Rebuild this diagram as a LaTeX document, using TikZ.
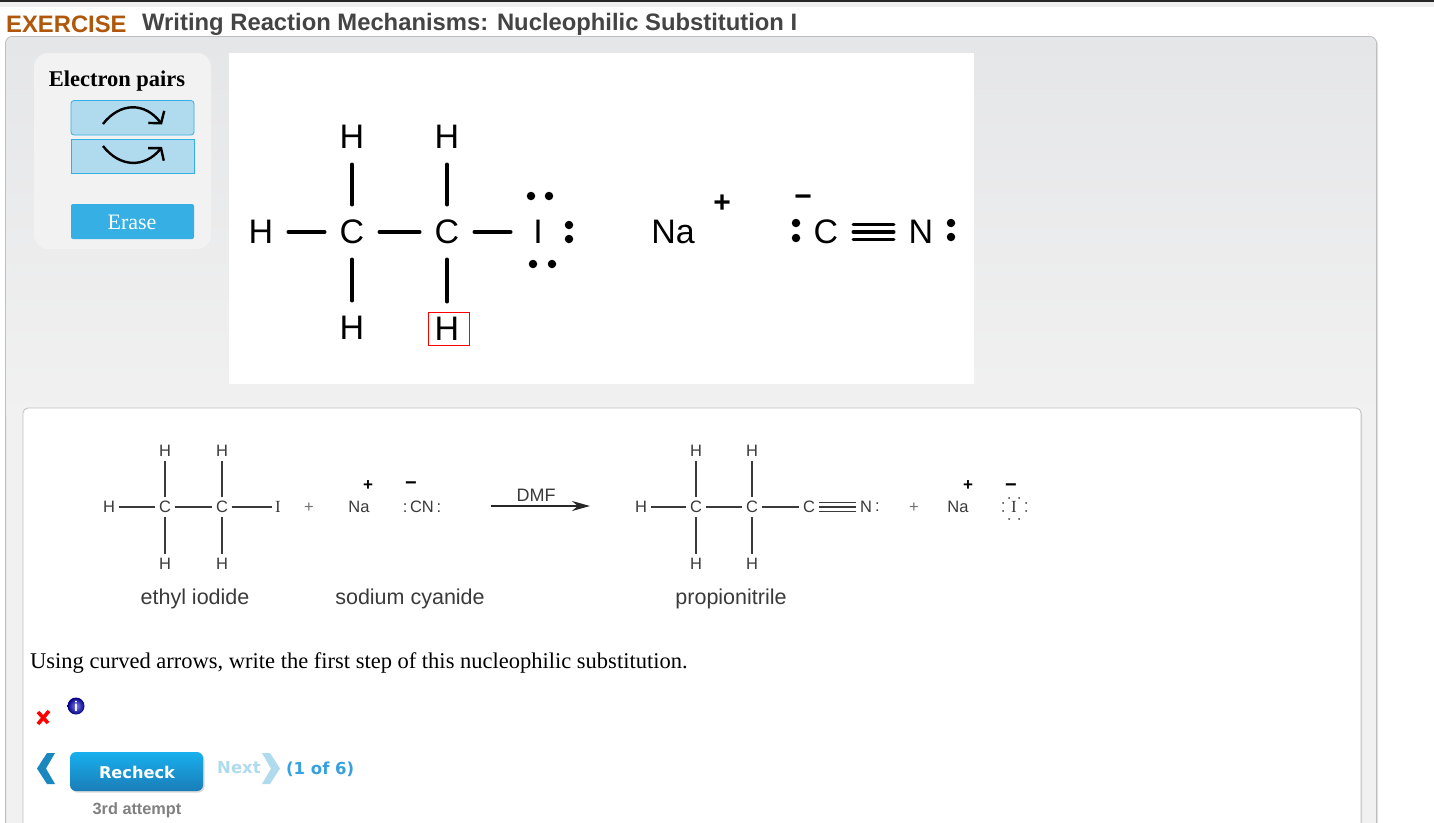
\documentclass[tikz,border=0pt]{standalone}
\usepackage{fontspec}
\setmainfont{Liberation Sans}
\newfontfamily\serifface{Liberation Serif}
\newfontfamily\dejaface{DejaVu Sans}
\usetikzlibrary{positioning, arrows.meta, shadows}

\definecolor{paneltop}{HTML}{E5E6E8}
\definecolor{panelend}{HTML}{F1F1F1}
\definecolor{toolbg}{HTML}{F2F2F2}
\definecolor{btnfill}{HTML}{B0DAEE}
\definecolor{btnblue}{HTML}{36B0E4}
\definecolor{countblue}{HTML}{36A0E0}
\definecolor{exorange}{HTML}{B0570C}
\definecolor{titlegray}{HTML}{444444}
\definecolor{smallink}{HTML}{3A3A3A}
\definecolor{backblue}{HTML}{1A87BF}

\begin{document}
\begin{tikzpicture}[x=1pt, y=-1pt, >=stealth, on grid,
  bigatom/.style={circle, inner sep=0pt, minimum size=54pt, font=\fontsize{34}{34}\selectfont},
  smallatom/.style={circle, inner sep=0pt, minimum size=19pt, text=smallink, font=\fontsize{16.5}{16.5}\selectfont},
  bond/.style={line width=3.4pt, line cap=round},
  thinbond/.style={line width=1.1pt, smallink},
  bigdot/.style={circle, fill=black, inner sep=0pt, minimum size=8.5pt},
  tinydot/.style={circle, fill=smallink, inner sep=0pt, minimum size=2pt},
  namelabel/.style={text=smallink, font=\fontsize{21.5}{21.5}\selectfont},
  toolbtn/.style={draw=btnblue, fill=btnfill, line width=0.8pt},
  iconarrow/.style={line width=2.4pt, -{Straight Barb[length=8pt, width=20pt, line width=2.4pt]}}]
  \useasboundingbox (0,0) rectangle (1434,822);
  \clip (0,0) rectangle (1434,822);

  % Page and panels
  \fill[white] (0,0) rectangle (1434,822);
  \fill[black!85] (0,0) rectangle (1434,1.5);
  \fill[black!6] (0,1.5) rectangle (1434,7);
  \draw[draw=black!25, line width=1pt, rounded corners=7pt, fill=panelend,
    drop shadow={opacity=0.2, shadow xshift=1.5pt, shadow yshift=-1pt}]
    (5.5,36.5) rectangle (1376.5,900);
  \shade[rounded corners=7pt, top color=paneltop, bottom color=panelend]
    (6,420) -- (6,37) -- (1376,37) -- (1376,420) -- cycle;
  \fill[toolbg, rounded corners=14pt] (34,53) rectangle (211,249);
  \fill[white] (229,53) rectangle (974,384);
  \draw[draw=black!25, fill=white, line width=0.8pt, rounded corners=5pt,
    drop shadow={opacity=0.25, shadow xshift=1pt, shadow yshift=-1pt}]
    (23,408) rectangle (1361,900);

  % Title
  \node[anchor=west, inner sep=0pt, text=exorange, font=\bfseries\fontsize{23.8}{23.8}\selectfont] (exword) at (6,24.5) {EXERCISE};
  \node[anchor=west, inner sep=0pt, text=titlegray, font=\bfseries\fontsize{23.8}{23.8}\selectfont] (extitle) at (142,24.5) {Writing Reaction Mechanisms: Nucleophilic Substitution I};

  % Tool box
  \node[font=\serifface\bfseries\fontsize{22.5}{22.5}\selectfont] (pairs) at (117,81) {Electron pairs};
  \draw[toolbtn, rounded corners=3pt] (71,100.5) rectangle (194,135);
  \draw[toolbtn] (71,139.5) rectangle (194,173.5);
  \fill[btnblue, rounded corners=2pt] (71,204) rectangle (194,239);
  \node[text=white, font=\serifface\fontsize{22}{22}\selectfont] (erase) at (132,222.5) {Erase};
  \coordinate (up1) at (103,124);
  \coordinate (up2) at (162,124.5);
  \coordinate (lo1) at (103,146);
  \coordinate (lo2) at (162,147);
  \draw[iconarrow] (up1) .. controls (120,102) and (145,102) .. (up2);
  \draw[iconarrow] (lo1) .. controls (120,168) and (145,168) .. (lo2);

  % Large structure
  \node[bigatom] (C1) at (352,232) {C};
  \node[bigatom, right=95pt of C1] (C2) {C};
  \node[bigatom, left=91pt of C1] (H1) {H};
  \node[bigatom, above=95pt of C1] (H2) {H};
  \node[bigatom, below=96pt of C1] (H3) {H};
  \node[bigatom, above=95pt of C2] (H4) {H};
  \node[bigatom, below=97pt of C2] (H5) {H};
  \node[bigatom, right=91pt of C2] (I1) {I};
  \node[draw=red, line width=0.8pt, minimum width=41pt, minimum height=33pt, inner sep=0pt] (mark) at (448.5,328.5) {};
  \draw[bond] (H1) -- (C1);
  \draw[bond] (C1) -- (C2);
  \draw[bond] (C2) -- (I1);
  \draw[bond] (C1) -- (H2);
  \draw[bond] (C1) -- (H3);
  \draw[bond] (C2) -- (H4);
  \draw[bond] (C2) -- (H5);
  \foreach \i/\px/\py in {1/531/196, 2/549/196, 3/533/264, 4/552/264, 5/569/225, 6/569/239,
                          7/796/223, 8/796/238, 9/951/223, 10/951/237}
    \node[bigdot] (dot\i) at (\px,\py) {};

  % Large ions
  \node[bigatom] (Na1) at (673,232) {Na};
  \node[font=\bfseries\fontsize{30}{30}\selectfont] (plus1) at (722,204) {+};
  \node[font=\bfseries\fontsize{30}{30}\selectfont] (minus1) at (803,201) {−};
  \node[bigatom] (C3) at (826,232) {C};
  \node[bigatom, right=95pt of C3] (N1) {N};
  \draw[bond] (C3) -- (N1);
  \draw[bond] ([yshift=7.5pt]C3.east) -- ([yshift=7.5pt]N1.west);
  \draw[bond] ([yshift=-7.5pt]C3.east) -- ([yshift=-7.5pt]N1.west);

  % Reactants
  \node[smallatom] (c1) at (165,507) {C};
  \node[smallatom, right=57pt of c1] (c2) {C};
  \node[smallatom, left=56pt of c1] (h1) {H};
  \node[smallatom, above=56pt of c1] (h2) {H};
  \node[smallatom, below=57pt of c1] (h3) {H};
  \node[smallatom, above=56pt of c2] (h4) {H};
  \node[smallatom, below=57pt of c2] (h5) {H};
  \node[smallatom, right=56pt of c2, minimum size=8pt, font=\serifface\fontsize{17}{17}\selectfont] (i1) {I};
  \draw[thinbond] (h1) -- (c1);
  \draw[thinbond] (c1) -- (c2);
  \draw[thinbond] (c2) -- (i1);
  \draw[thinbond] (c1) -- (h2);
  \draw[thinbond] (c1) -- (h3);
  \draw[thinbond] (c2) -- (h4);
  \draw[thinbond] (c2) -- (h5);
  \node[smallatom, text=black!55] (plus2) at (309,508) {+};
  \node[smallatom] (na2) at (359,507) {Na};
  \node[smallatom, text=black, font=\bfseries\fontsize{17}{17}\selectfont] (plus3) at (368,486) {+};
  \node[smallatom, text=black, font=\bfseries\fontsize{20}{20}\selectfont] (minus2) at (411,486) {−};
  \node[smallatom] (cn) at (422,507) {:\,CN\,:};

  % Arrow
  \coordinate (arrowstart) at (491,506);
  \coordinate (arrowend) at (590,506);
  \draw[line width=2pt, black!85, -{Stealth[length=18pt, width=10pt]}] (arrowstart) -- (arrowend);
  \node[smallatom, font=\fontsize{18}{18}\selectfont] (dmf) at (536,495) {DMF};

  % Products
  \node[smallatom] (c4) at (696,507) {C};
  \node[smallatom, right=56pt of c4] (c5) {C};
  \node[smallatom, right=57pt of c5] (c6) {C};
  \node[smallatom, left=55pt of c4] (h6) {H};
  \node[smallatom, above=56pt of c4] (h7) {H};
  \node[smallatom, below=57pt of c4] (h8) {H};
  \node[smallatom, above=56pt of c5] (h9) {H};
  \node[smallatom, below=57pt of c5] (h10) {H};
  \node[smallatom] (n2) at (866,507) {N};
  \node[smallatom, minimum size=0pt] (colon) at (877.5,507) {:};
  \draw[thinbond] (h6) -- (c4);
  \draw[thinbond] (c4) -- (c5);
  \draw[thinbond] (c5) -- (c6);
  \draw[thinbond] (c4) -- (h7);
  \draw[thinbond] (c4) -- (h8);
  \draw[thinbond] (c5) -- (h9);
  \draw[thinbond] (c5) -- (h10);
  \draw[thinbond] (c6) -- (n2);
  \draw[thinbond] ([yshift=4.5pt]c6.east) -- ([yshift=4.5pt]n2.west);
  \draw[thinbond] ([yshift=-4.5pt]c6.east) -- ([yshift=-4.5pt]n2.west);
  \node[smallatom, text=black!55] (plus4) at (914,508) {+};
  \node[smallatom] (na3) at (958,507) {Na};
  \node[smallatom, text=black, font=\bfseries\fontsize{17}{17}\selectfont] (plus5) at (968,486) {+};
  \node[smallatom, text=black, font=\bfseries\fontsize{20}{20}\selectfont] (minus3) at (1011,488) {−};
  \node[smallatom, font=\serifface\fontsize{17}{17}\selectfont] (i2) at (1014,507) {I};
  \foreach \i/\px/\py in {1/1009/498, 2/1019/498, 3/1009/519, 4/1019/519, 5/1003/503, 6/1003/511, 7/1026/503, 8/1026/511}
    \node[tinydot] (tiny\i) at (\px,\py) {};

  % Names
  \node[namelabel] (ethyl) at (195,599) {ethyl iodide};
  \node[namelabel] (cyanide) at (410,599) {sodium cyanide};
  \node[namelabel] (propio) at (731,599) {propionitrile};

  % Prompt
  \node[anchor=west, inner sep=0pt, font=\serifface\fontsize{22.5}{22.5}\selectfont] (prompt) at (30,663) {Using curved arrows, write the first step of this nucleophilic substitution.};

  % Status icons
  \draw[red, line width=3.6pt] (38,712) -- (48,723);
  \draw[red, line width=3.6pt] (49,711) -- (38,724);
  \shade[inner color=blue!50!white, outer color=blue!50!black] (76,706) circle (8.5);
  \node[text=white, inner sep=0pt, font=\bfseries\fontsize{14}{14}\selectfont] (info) at (76,706) {i};

  % Buttons
  \fill[backblue] (47,753) -- (55,753) -- (46,768.5) -- (55,784) -- (47,784) -- (37,768.5) -- cycle;
  \draw[draw=none, rounded corners=6pt, top color={rgb,255:red,24;green,176;blue,238}, bottom color={rgb,255:red,26;green,125;blue,184},
    drop shadow={opacity=0.3, shadow xshift=1.5pt, shadow yshift=-1.5pt}] (70,752) rectangle (203,791);
  \node[text=white, font=\dejaface\bfseries\fontsize{16.2}{16.2}\selectfont] (recheck) at (137,772) {Recheck};
  \node[text=btnfill, font=\dejaface\bfseries\fontsize{16.5}{16.5}\selectfont] (next) at (239,768) {Next};
  \fill[btnfill] (262,753) -- (270,753) -- (280,768.5) -- (270,784) -- (262,784) -- (271,768.5) -- cycle;
  \node[anchor=west, inner sep=0pt, text=countblue, font=\dejaface\bfseries\fontsize{16.5}{16.5}\selectfont] (count) at (286,769) {(1 of 6)};
  \node[text=black!50, font=\bfseries\fontsize{16.3}{16.3}\selectfont] (attempt) at (137,810) {3rd attempt};
\end{tikzpicture}
\end{document}
